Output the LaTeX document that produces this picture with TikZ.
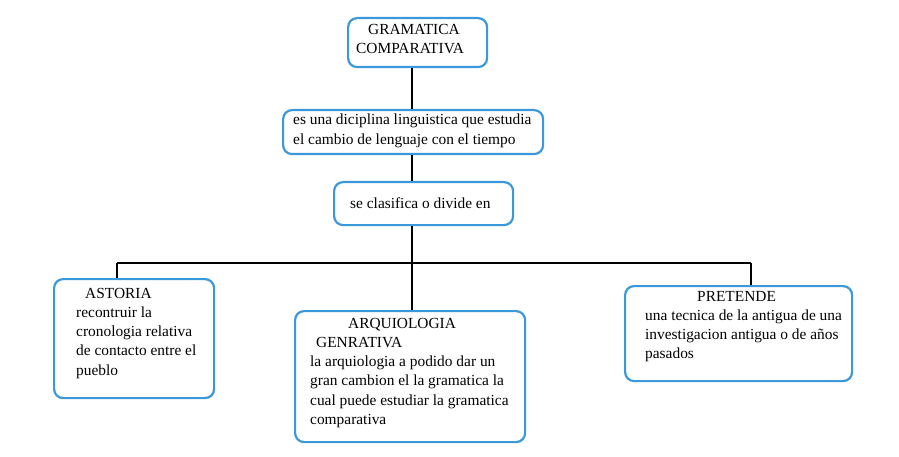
\documentclass[tikz,border=0pt]{standalone}
\usepackage{fontspec}
\setmainfont{Liberation Serif}
\begin{document}
\begin{tikzpicture}[x=1pt,y=-1pt,
  box/.style={draw=cyan!70!blue!80, line width=2.2pt, rounded corners=9pt, anchor=north west, inner sep=0pt},
  txt/.style={anchor=north west, align=left, inner sep=0pt, font=\fontsize{15.4}{19.2}\selectfont},
  conn/.style={line width=2.6pt, black}]
\useasboundingbox (0,0) rectangle (899,457);
\node[box, minimum width=139pt, minimum height=49pt] (b1) at (347,17) {};
\node[box, minimum width=260pt, minimum height=44pt] (b2) at (282,109) {};
\node[box, minimum width=179pt, minimum height=43pt] (b3) at (333,181) {};
\node[box, minimum width=160pt, minimum height=119pt] (b4) at (53,278) {};
\node[box, minimum width=230pt, minimum height=131pt] (b5) at (294,310) {};
\node[box, minimum width=227pt, minimum height=95pt] (b6) at (624,285) {};
\node[txt] (t1) at (356,24) {\hspace{12pt}GRAMATICA\\COMPARATIVA};
\node[txt] (t2) at (293,114) {es una diciplina linguistica que estudia\\el cambio de lenguaje con el tiempo};
\node[txt] (t3) at (350,197) {se clasifica o divide en};
\node[txt] (t4) at (76,288) {\hspace{9pt}ASTORIA\\recontruir la\\cronologia relativa\\de contacto entre el\\pueblo};
\node[txt] (t5) at (310,318) {\hspace{38pt}ARQUIOLOGIA\\\hspace{6pt}GENRATIVA\\la arquiologia a podido dar un\\gran cambion el la gramatica la\\cual puede estudiar la gramatica\\comparativa};
\node[txt] (t6) at (645,291) {\hspace{52pt}PRETENDE\\una tecnica de la antigua de una\\investigacion antigua o de años\\pasados};
\coordinate (h) at (412,263);
\coordinate (hl) at (117,263);
\coordinate (hr) at (751,263);
\draw[conn] (b1.south -| h) -- (b2.north -| h);
\draw[conn] (b2.south -| h) -- (b3.north -| h);
\draw[conn] (b3.south -| h) -- (b5.north -| h);
\draw[conn] (hl) -- (hr);
\draw[conn] (hl) -- (b4.north -| hl);
\draw[conn] (hr) -- (b6.north -| hr);
\end{tikzpicture}
\end{document}
